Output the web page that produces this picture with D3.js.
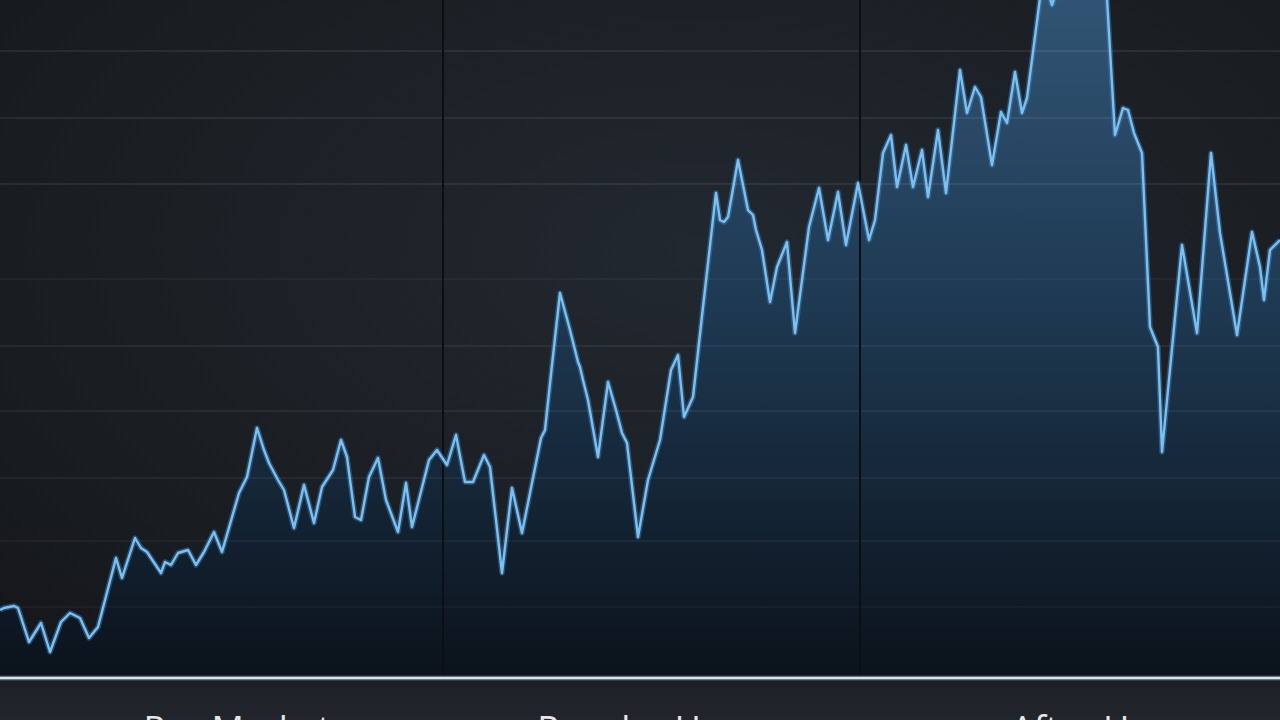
<!DOCTYPE html>
<html>
<head>
<meta charset="utf-8">
<script src="https://cdn.jsdelivr.net/npm/d3@7"></script>
<style>
html,body{margin:0;padding:0;background:#1e2228;overflow:hidden;}
svg{display:block;}
</style>
</head>
<body>
<svg id="chart" width="1280" height="720"></svg>
<script>
// ---- data ----
const times = [0,4,14,18,29,41,50,61,70,80,89,98,116,122,135,141,147,161,165,171,178,188,196,204,214,222,239,247,257,264,269,278,284,294,304,314,322,333,341,347,355,361,369,378,386,398,406,412,429,437,447,456,465,473,484,490,502,512,522,541,545,552,560,570,578,580,583,588,598,608,616,622,627,638,648,660,671,678,684,693,703,716,720,724,728,738,748,753,756,762,770,777,787,795,809,819,828,838,846,858,869,875,883,891,897,906,913,922,928,938,946,960,967,975,981,992,1001,1007,1015,1022,1027,1040,1046,1052,1057,1075,1095,1107,1115,1123,1128,1134,1142,1150,1158,1162,1182,1197,1211,1220,1237,1252,1260,1264,1270,1280];
const prices = [106.8,107.0,107.2,107.0,103.6,105.5,102.6,105.6,106.5,106.0,104.0,105.1,112.0,110.0,114.0,113.0,112.6,110.5,111.6,111.3,112.5,112.8,111.3,112.6,114.6,112.6,118.5,120.1,125.0,122.8,121.5,119.8,118.8,115.0,119.3,115.5,119.1,120.8,123.8,122.1,116.1,115.8,120.1,122.0,117.8,114.6,119.5,115.1,121.8,122.8,121.3,124.3,119.6,119.6,122.3,121.1,110.5,119.0,114.5,124.0,124.8,131.3,138.5,134.8,131.6,131.1,129.8,127.8,122.1,129.6,126.8,124.5,123.5,114.1,119.8,123.8,130.8,132.3,126.1,128.1,137.1,148.5,145.8,145.6,146.1,151.8,146.8,146.3,144.8,142.8,137.6,141.1,143.6,134.5,145.1,149.0,143.8,148.6,143.3,149.5,143.8,145.8,152.5,154.3,149.1,153.3,149.1,152.8,148.1,154.8,148.5,160.8,156.5,159.1,158.1,151.3,156.6,155.5,160.6,156.5,158.0,168.0,169.3,167.3,168.8,170.3,169.8,168.0,154.3,157.0,156.8,154.5,152.5,135.1,133.1,122.6,143.3,134.5,152.5,144.5,134.3,144.6,141.1,137.8,142.8,143.8];
const gridValues = [162.7,156.0,149.4,139.9,133.2,126.7,120.0,113.7,107.1];
const gridOpacity = [0.07,0.07,0.07,0.035,0.06,0.06,0.05,0.045,0.03];
const sessionBreaks = [443, 860];
const sessionNames = ["Pre-Market","Regular Hours","After Hours"];
const sessionLabelAt = [237, 657, 1108];

// ---- layout ----
const W = 1280, H = 720, plotBottom = 678;
const svg = d3.select("#chart");
const x = d3.scaleLinear().domain([0,1280]).range([0,W]);
const y = d3.scaleLinear().domain([100,167.8]).range([plotBottom,0]);

const defs = svg.append("defs");
const bg = defs.append("radialGradient").attr("id","bg").attr("cx","55%").attr("cy","35%").attr("r","75%");
bg.append("stop").attr("offset","0%").attr("stop-color","#222830");
bg.append("stop").attr("offset","60%").attr("stop-color","#1b1f24");
bg.append("stop").attr("offset","100%").attr("stop-color","#15171b");

const areaGrad = defs.append("linearGradient").attr("id","areaGrad")
  .attr("gradientUnits","userSpaceOnUse").attr("x1",0).attr("y1",0).attr("x2",0).attr("y2",plotBottom);
areaGrad.append("stop").attr("offset","0%").attr("stop-color","#315474");
areaGrad.append("stop").attr("offset","45%").attr("stop-color","#1e3952");
areaGrad.append("stop").attr("offset","100%").attr("stop-color","#0b121b");

const bottomGrad = defs.append("linearGradient").attr("id","bottomGrad").attr("x1",0).attr("y1",0).attr("x2",0).attr("y2",1);
bottomGrad.append("stop").attr("offset","0%").attr("stop-color","#1c2026");
bottomGrad.append("stop").attr("offset","100%").attr("stop-color","#22262c");

defs.append("clipPath").attr("id","plotClip").append("rect")
  .attr("x",0).attr("y",0).attr("width",W).attr("height",plotBottom);

// background
svg.append("rect").attr("width",W).attr("height",H).attr("fill","url(#bg)");
svg.append("rect").attr("x",0).attr("y",plotBottom).attr("width",W).attr("height",H-plotBottom).attr("fill","url(#bottomGrad)");

const data = times.map((t,i)=>({t, v: prices[i]}));
const plot = svg.append("g").attr("clip-path","url(#plotClip)");

const area = d3.area().x(d=>x(d.t)).y0(plotBottom).y1(d=>y(d.v)).curve(d3.curveLinear);
const line = d3.line().x(d=>x(d.t)).y(d=>y(d.v)).curve(d3.curveLinear);

plot.append("path").datum(data).attr("d",area).attr("fill","url(#areaGrad)");

// grid lines
plot.selectAll("line.grid").data(gridValues).join("line")
  .attr("class","grid")
  .attr("x1",0).attr("x2",W)
  .attr("y1",d=>y(d)).attr("y2",d=>y(d))
  .attr("stroke","#ffffff")
  .attr("stroke-opacity",(d,i)=>gridOpacity[i])
  .attr("stroke-width",2);

// session dividers
plot.selectAll("line.div").data(sessionBreaks).join("line")
  .attr("class","div")
  .attr("x1",d=>x(d)).attr("x2",d=>x(d))
  .attr("y1",0).attr("y2",plotBottom)
  .attr("stroke","#0b0f14").attr("stroke-width",2);

// price line
plot.append("path").datum(data).attr("d",line)
  .attr("fill","none").attr("stroke","#3f86c4").attr("stroke-opacity",0.45)
  .attr("stroke-width",5.5).attr("stroke-linejoin","round");
plot.append("path").datum(data).attr("d",line)
  .attr("fill","none").attr("stroke","#7cc0ef")
  .attr("stroke-width",2.4).attr("stroke-linejoin","round");

// baseline
svg.append("line").attr("x1",0).attr("x2",W).attr("y1",plotBottom).attr("y2",plotBottom)
  .attr("stroke","#9fb6c9").attr("stroke-width",5).attr("stroke-opacity",0.35);
svg.append("line").attr("x1",0).attr("x2",W).attr("y1",plotBottom).attr("y2",plotBottom)
  .attr("stroke","#d6e3ee").attr("stroke-width",2.5);

// session labels (cut by the bottom edge, as in the reference)
svg.selectAll("text.session").data(sessionNames).join("text")
  .attr("class","session")
  .attr("x",(d,i)=>x(sessionLabelAt[i]))
  .attr("y",742)
  .attr("text-anchor","middle")
  .attr("font-family","'Open Sans', 'Noto Sans', sans-serif")
  .attr("font-size",36)
  .attr("fill","#e4e6e8")
  .text(d=>d);
</script>
</body>
</html>
